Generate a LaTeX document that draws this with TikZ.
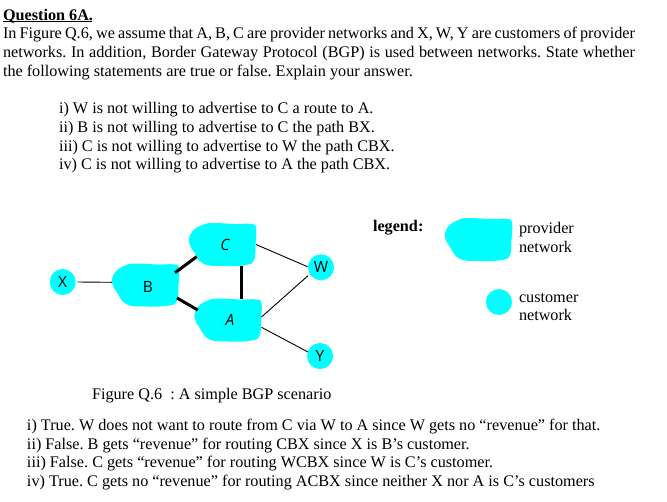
\documentclass[tikz,border=0pt]{standalone}
\usepackage{fontspec}
\setmainfont{Liberation Serif}
\newfontfamily\labelfont{Open Sans}
\frenchspacing
\tikzset{
  x=1pt,y=-1pt,
  txt/.style={anchor=base west,inner sep=0pt,outer sep=0pt,font=\fontsize{16.2}{19}\selectfont},
  netlabel/.style={inner sep=0pt,font=\labelfont\fontsize{15.5}{17}\selectfont},
  providerbox/.style={inner sep=0pt,outer sep=0pt,minimum width=67pt,minimum height=43pt,netlabel},
  customer/.style={circle,fill=netcyan,inner sep=0pt,outer sep=0pt,minimum size=26pt,netlabel},
  thin link/.style={line width=0.9pt},
  thick link/.style={line width=3pt},
  pics/cloudshape/.style={code={
    \fill[netcyan] plot[smooth cycle,tension=0.7] coordinates {(23,0)(45,1)(62,1)(67,5)(66.5,22)(65,37)(57,42)(35,43)(15,41)(5,29)(0,19)(3,9)(12,2.5)};
  }}
}
\definecolor{netcyan}{RGB}{0,255,255}
\newcommand{\justline}[1]{\makebox[632pt][s]{#1}}
\begin{document}
\begin{tikzpicture}
\useasboundingbox (0,0) rectangle (667,501);
% text block
\node[txt] (q) at (3,20) {\rlap{\rule[-2.2pt]{89pt}{1.2pt}}\textbf{Question 6A.}};
\node[txt] (p1) at (3,38) {\justline{In Figure Q.6, we assume that A, B, C are provider networks and X, W, Y are customers of provider}};
\node[txt] (p2) at (3,57) {\justline{networks. In addition, Border Gateway Protocol (BGP) is used between networks. State whether}};
\node[txt] (p3) at (3,76) {the following statements are true or false. Explain your answer.};
\node[txt] (s1) at (59,113.5) {i) W is not willing to advertise to C a route to A.};
\node[txt] (s2) at (59,132.5) {ii) B is not willing to advertise to C the path BX.};
\node[txt] (s3) at (59,151) {iii) C is not willing to advertise to W the path CBX.};
\node[txt] (s4) at (59,169.5) {iv) C is not willing to advertise to A the path CBX.};
% clouds
\pic at (189,223) {cloudshape};
\pic at (112,263.5) {cloudshape};
\pic at (194.5,298.5) {cloudshape};
\pic at (445,218) {cloudshape};
\node[providerbox] (C) at (222.5,244.5) {\hspace*{5pt}\itshape C};
\node[providerbox] (B) at (145.5,287) {\hspace*{5pt}B};
\node[providerbox] (A) at (228,320) {\hspace*{4pt}\itshape A};
\node[customer] (X) at (62.7,282) {X};
\node[customer] (W) at (321,267.3) {W};
\node[customer] (Y) at (320,356) {Y};
% connectors
\draw[thin link] ([xshift=2pt]X.east) -- ([yshift=4.7pt]B.west);
\draw[thick link] ([xshift=-4pt,yshift=-7.2pt]B.north east) -- ([xshift=7.7pt,yshift=9.3pt]C.south west);
\draw[thick link] ([xshift=-2pt,yshift=10.5pt]B.south east) -- ([xshift=3.2pt,yshift=-11.5pt]A.north west);
\draw[thick link] ([xshift=18.5pt]C.south) -- ([xshift=13pt]A.north);
\draw[thin link] (C.east) -- ([xshift=-0.5pt,yshift=0.6pt]W.west);
\draw[thin link] ([yshift=3pt]A.east) -- ([yshift=-8.4pt]W.west);
\draw[thin link] ([yshift=-7.3pt]A.east) -- ([xshift=1pt,yshift=4pt]Y.west);
% legend
\node[txt,font=\fontsize{16.2}{19}\selectfont\bfseries] (lg) at (373,231) {legend:};
\node[circle,fill=netcyan,minimum size=26pt,inner sep=0pt] (lc) at (499,302) {};
\node[txt] (l1) at (519,233) {provider};
\node[txt] (l2) at (519,252) {network};
\node[txt] (l3) at (519,302) {customer};
\node[txt] (l4) at (519,320) {network};
% caption and answers
\node[txt] (cap) at (92,399) {Figure Q.6\ \ : A simple BGP scenario};
\node[txt] (a1) at (27,430) {i) True. W does not want to route from C via W to A since W gets no “revenue” for that.};
\node[txt] (a2) at (27,449) {ii) False. B gets “revenue” for routing CBX since X is B’s customer.};
\node[txt] (a3) at (27,467) {iii) False. C gets “revenue” for routing WCBX since W is C’s customer.};
\node[txt] (a4) at (27,486) {iv) True. C gets no “revenue” for routing ACBX since neither X nor A is C’s customers};
\end{tikzpicture}
\end{document}
